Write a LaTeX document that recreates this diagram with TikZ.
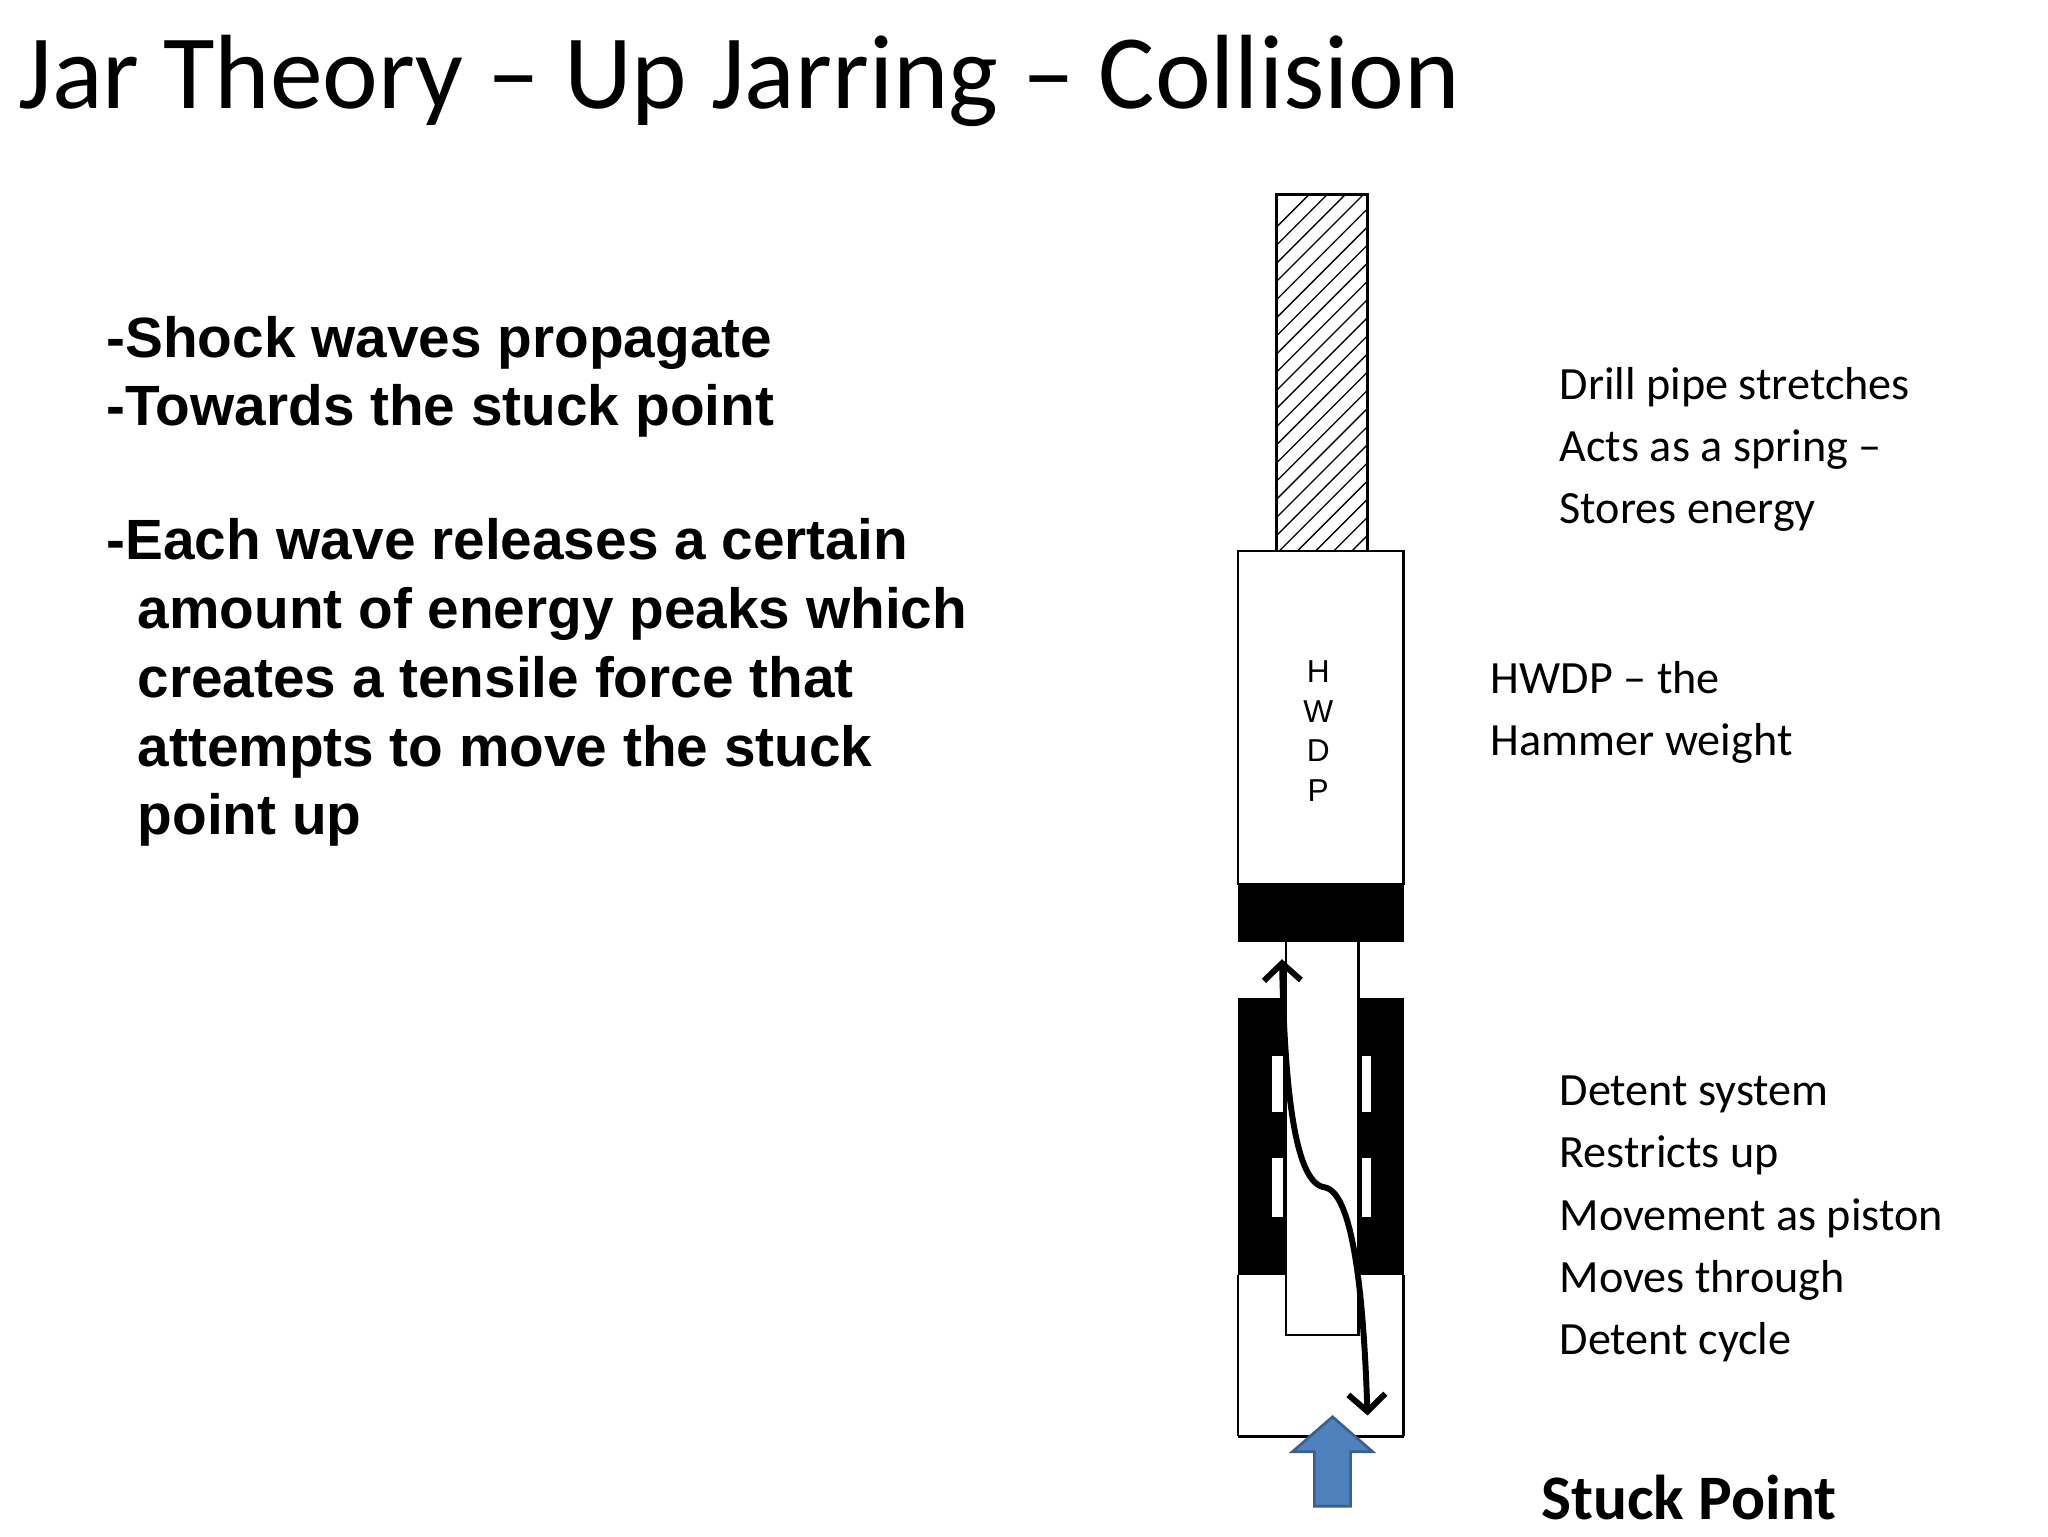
\documentclass[tikz,border=0pt]{standalone}
\usepackage{fontspec}
\setmainfont{Carlito}
\newfontfamily\arialf{Liberation Sans}
\usetikzlibrary{arrows.meta}
\begin{document}
\begin{tikzpicture}[x=0.982pt,y=-0.982pt,
  txt/.style={anchor=base west,inner sep=0pt},
  lft/.style={txt,font=\arialf\bfseries\fontsize{43}{46}\selectfont},
  rgt/.style={txt,font=\fontsize{35}{40}\selectfont},
  edge/.style={line width=2pt}]
\useasboundingbox (0,0) rectangle (1580,1185);
\node[txt,font=\fontsize{80}{90}\selectfont] (title) at (14,84) {Jar Theory – Up Jarring – Collision};
\node[lft] (l1) at (82,276) {-Shock waves propagate};
\node[lft] (l2) at (82,328) {-Towards the stuck point};
\node[lft] (l3) at (82,432) {-Each wave releases a certain};
\node[lft] (l4) at (106,485) {amount of energy peaks which};
\node[lft] (l5) at (106,538) {creates a tensile force that};
\node[lft] (l6) at (106,591) {attempts to move the stuck};
\node[lft] (l7) at (106,644) {point up};
\node[rgt] (r1) at (1203,308) {Drill pipe stretches};
\node[rgt] (r2) at (1203,356) {Acts as a spring –};
\node[rgt] (r3) at (1203,404) {Stores energy};
\node[rgt] (r4) at (1150,535) {HWDP – the};
\node[rgt] (r5) at (1150,583) {Hammer weight};
\node[rgt] (r6) at (1203,853) {Detent system};
\node[rgt] (r7) at (1203,901) {Restricts up};
\node[rgt] (r8) at (1203,949) {Movement as piston};
\node[rgt] (r9) at (1203,997) {Moves through};
\node[rgt] (r10) at (1203,1045) {Detent cycle};
\node[txt,font=\bfseries\fontsize{48}{50}\selectfont] (sp) at (1189,1172) {Stuck Point};
% drill pipe
\begin{scope}
\clip (985,150) rectangle (1055,425);
\foreach \k in {0,...,22} \draw[line width=1pt] (970,190+14*\k) -- (1070,90+14*\k);
\end{scope}
\draw[edge] (985,150) rectangle (1055,425);
% HWDP
\draw[edge] (955,425) rectangle (1083,682);
\node[font=\arialf\fontsize{24}{30}\selectfont,align=center] (hw) at (1017,564) {H\\W\\D\\P};
% black collar
\fill (955,682) rectangle (1083,727);
% side blocks
\fill (955,770) rectangle (992,984);
\fill (1048,770) rectangle (1083,984);
\fill[white] (981,815) rectangle (990,858);
\fill[white] (981,893) rectangle (990,939);
\fill[white] (1051,815) rectangle (1058,858);
\fill[white] (1051,893) rectangle (1058,939);
% mandrel
\draw[edge] (992,727) -- (992,1030) -- (1048,1030) -- (1048,727);
% lower housing
\draw[edge] (955,984) -- (955,1108);
\draw[edge] (1083,984) -- (1083,1108);
\draw[edge] (955,1108) -- (1083,1108);
% wave arrow
\coordinate (wa) at (989,740);
\coordinate (wb) at (1055,1092);
\draw[line width=4.5pt,{Straight Barb[length=13pt,width=28pt]}-{Straight Barb[length=13pt,width=28pt]}]
  (wa) .. controls (991,828) and (997,913) .. (1022,916)
  .. controls (1044,920) and (1052,1000) .. (wb);
% blue arrow
\draw[line width=2pt,draw={rgb,255:red,58;green,95;blue,143},fill={rgb,255:red,79;green,129;blue,189},line join=miter]
  (1028,1093) -- (1059,1120) -- (1042,1120) -- (1042,1162) -- (1014,1162) -- (1014,1120) -- (997,1120) -- cycle;
\end{tikzpicture}
\end{document}
